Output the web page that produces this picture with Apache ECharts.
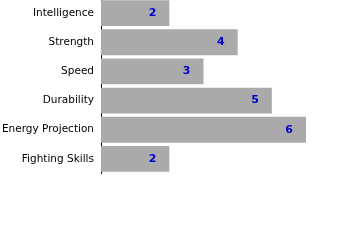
<!DOCTYPE html>
<html>
<head>
<meta charset="utf-8">
<script src="https://cdn.jsdelivr.net/npm/echarts@6/dist/echarts.min.js"></script>
<style>
  html, body { margin: 0; padding: 0; background: #fff; }
  #chart { width: 350px; height: 250px; }
</style>
</head>
<body>
<div id="chart"></div>
<script>
  // 数据
  var categories = ['Intelligence', 'Strength', 'Speed', 'Durability', 'Energy Projection', 'Fighting Skills'];
  var values = [2, 4, 3, 5, 6, 2];

  var myChart = echarts.init(document.getElementById('chart'));
  var option = {
    animation: false,
    grid: {
      left: 101,
      right: 44,
      top: -1.5,
      height: 175,
      containLabel: false,
      outerBoundsMode: 'none'
    },
    xAxis: {
      type: 'value',
      min: 0,
      max: 6,
      show: false
    },
    yAxis: {
      type: 'category',
      inverse: true,
      data: categories,
      axisLine: { show: true, lineStyle: { color: '#000', width: 1 } },
      axisTick: { show: false },
      axisLabel: {
        color: '#000',
        fontFamily: 'DejaVu Sans',
        fontSize: 10.5,
        margin: 7
      }
    },
    series: [
      {
        type: 'bar',
        data: values,
        barCategoryGap: '11.5%',
        itemStyle: { color: '#aaaaaa' },
        label: {
          show: true,
          position: 'insideRight',
          distance: 13,
          color: '#0000cc',
          fontFamily: 'DejaVu Sans',
          fontSize: 11,
          fontWeight: 'bold'
        }
      }
    ]
  };
  myChart.setOption(option);
</script>
</body>
</html>
